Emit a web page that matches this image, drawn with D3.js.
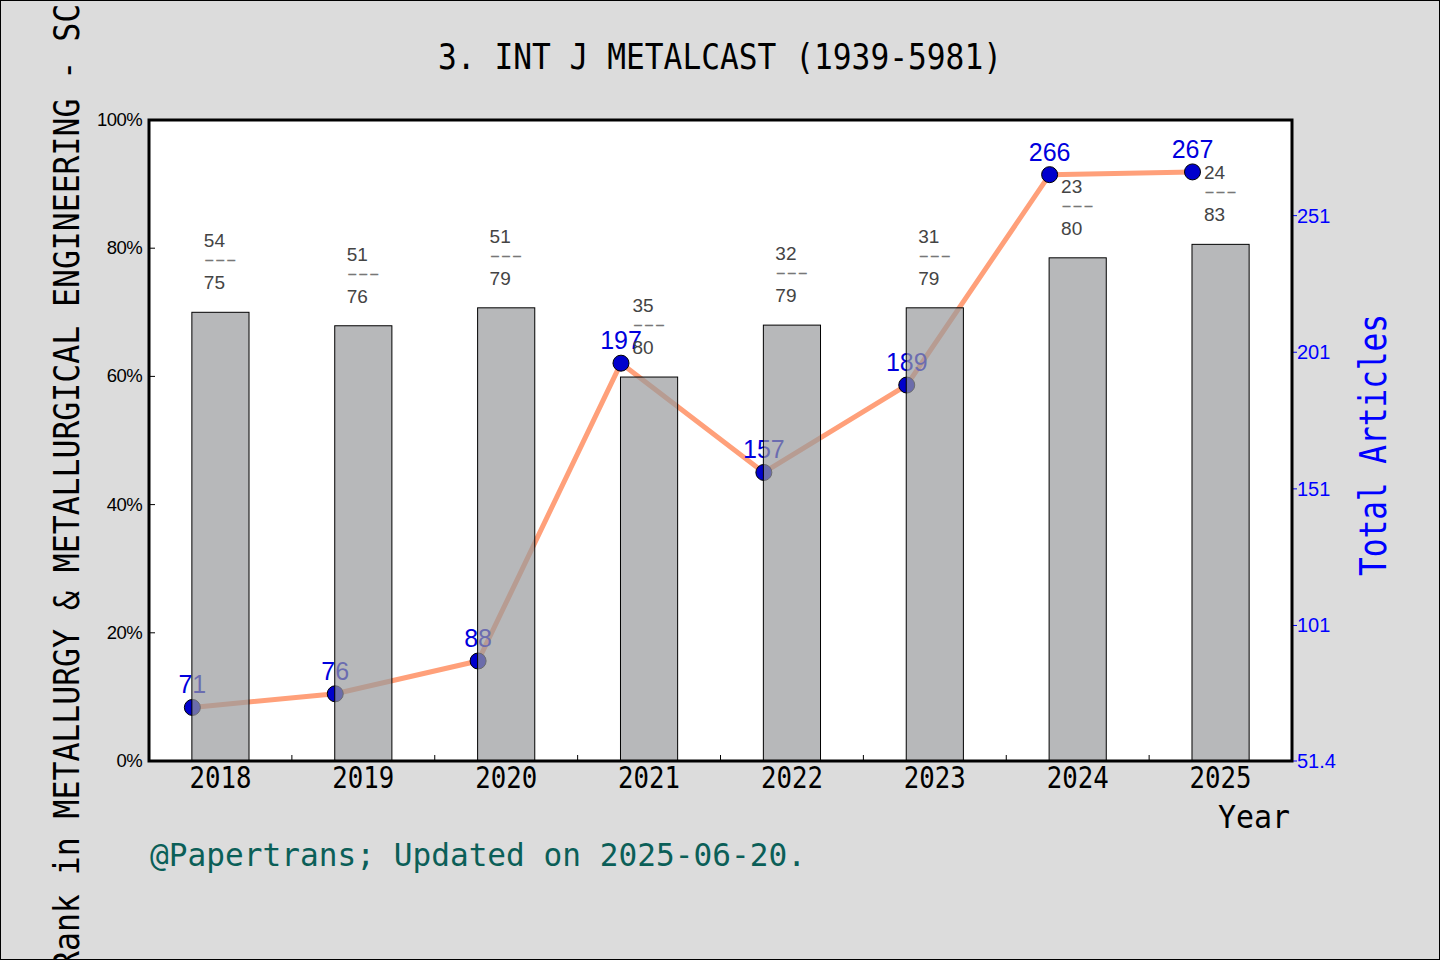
<!DOCTYPE html>
<html>
<head>
<meta charset="utf-8">
<script src="https://cdn.jsdelivr.net/npm/d3@7"></script>
<style>
  body { margin: 0; background: #dcdcdc; }
  svg { display: block; }
</style>
</head>
<body>
<svg id="chart" width="1440" height="960"></svg>
<script>
const years = ["2018", "2019", "2020", "2021", "2022", "2023", "2024", "2025"];
const rankPct = [0.700, 0.679, 0.707, 0.599, 0.680, 0.707, 0.785, 0.806];
const rankNum = [54, 51, 51, 35, 32, 31, 23, 24];
const catTotal = [75, 76, 79, 80, 79, 79, 80, 83];
const articles = [71, 76, 88, 197, 157, 189, 266, 267];
const pctTicks = [0, 0.2, 0.4, 0.6, 0.8, 1.0];
const artTicks = [51.4, 101, 151, 201, 251];

const monoFont = "'DejaVu Sans Mono', 'Liberation Mono', monospace";
const sansFont = "'Liberation Sans', Arial, sans-serif";

const plot = { left: 149, right: 1292, top: 120, bottom: 761 };

const svg = d3.select("#chart");

svg.append("rect")
    .attr("x", 0.5).attr("y", 0.5)
    .attr("width", 1439).attr("height", 959)
    .attr("fill", "#dcdcdc")
    .attr("stroke", "#000")
    .attr("stroke-width", 1);

const x = d3.scaleBand().domain(years).range([plot.left, plot.right]).padding(0);
const barW = x.bandwidth() * 0.4;
const yPct = d3.scaleLinear().domain([0, 1]).range([plot.bottom, plot.top]);
const yArt = d3.scaleLinear().domain([51.4, 286]).range([plot.bottom, plot.top]);

const barLeft = d => x(d) + x.bandwidth() / 2 - barW / 2;

// plot area
svg.append("rect")
    .attr("x", plot.left).attr("y", plot.top)
    .attr("width", plot.right - plot.left).attr("height", plot.bottom - plot.top)
    .attr("fill", "#fff");

// title
svg.append("text")
    .attr("x", 720).attr("y", 69)
    .attr("text-anchor", "middle")
    .attr("font-family", monoFont)
    .attr("font-size", 36)
    .attr("textLength", 564)
    .attr("lengthAdjust", "spacingAndGlyphs")
    .text("3. INT J METALCAST (1939-5981)");

// line series (drawn under the bars)
const pts = years.map((y, i) => [barLeft(y) + 0.5, yArt(articles[i])]);

svg.append("path")
    .attr("d", d3.line()(pts))
    .attr("fill", "none")
    .attr("stroke", "#ffa07a")
    .attr("stroke-width", 5)
    .attr("stroke-linejoin", "round");

svg.append("g").selectAll("circle")
    .data(pts)
    .join("circle")
    .attr("cx", d => d[0])
    .attr("cy", d => d[1])
    .attr("r", 8)
    .attr("fill", "#0000cd")
    .attr("stroke", "#000")
    .attr("stroke-width", 1);

svg.append("g").selectAll("text")
    .data(years)
    .join("text")
    .attr("x", d => barLeft(d) + 0.5)
    .attr("y", (d, i) => yArt(articles[i]) - 14)
    .attr("text-anchor", "middle")
    .attr("font-family", sansFont)
    .attr("font-size", 25)
    .attr("fill", "#0000dd")
    .text((d, i) => articles[i]);

// bars on top, semi transparent
svg.append("g").selectAll("rect")
    .data(years)
    .join("rect")
    .attr("x", d => barLeft(d))
    .attr("y", (d, i) => yPct(rankPct[i]))
    .attr("width", barW)
    .attr("height", (d, i) => plot.bottom - yPct(rankPct[i]))
    .attr("fill", "#999a9c")
    .attr("fill-opacity", 0.7)
    .attr("stroke", "#000")
    .attr("stroke-width", 1);

// rank labels above bars
const lab = svg.append("g")
    .attr("font-family", sansFont)
    .attr("font-size", 19)
    .attr("fill", "#444");

years.forEach((yr, i) => {
    const lx = barLeft(yr) + 12;
    const top = yPct(rankPct[i]);
    lab.append("text").attr("x", lx).attr("y", top - 65).text(rankNum[i]);
    lab.append("text").attr("x", lx).attr("y", top - 46)
        .attr("fill", "#777")
        .attr("textLength", 33)
        .attr("lengthAdjust", "spacingAndGlyphs")
        .text("---");
    lab.append("text").attr("x", lx).attr("y", top - 23).text(catTotal[i]);
});

// left axis
const leftAxis = svg.append("g");
pctTicks.forEach(t => {
    leftAxis.append("line")
        .attr("x1", plot.left).attr("x2", plot.left + 6)
        .attr("y1", yPct(t)).attr("y2", yPct(t))
        .attr("stroke", "#000");
    leftAxis.append("text")
        .attr("x", 142).attr("y", yPct(t) + 6)
        .attr("text-anchor", "end")
        .attr("font-family", sansFont)
        .attr("font-size", 18.5)
        .attr("letter-spacing", -0.6)
        .text(d3.format(".0%")(t));
});

// right axis
const rightAxis = svg.append("g");
artTicks.forEach(t => {
    rightAxis.append("line")
        .attr("x1", plot.right).attr("x2", plot.right + 5)
        .attr("y1", yArt(t)).attr("y2", yArt(t))
        .attr("stroke", "#0000ff");
    rightAxis.append("text")
        .attr("x", 1297).attr("y", yArt(t) + 7)
        .attr("font-family", sansFont)
        .attr("font-size", 20)
        .attr("fill", "#0000ff")
        .text(t);
});

// bottom ticks between categories
years.slice(1).forEach(yr => {
    svg.append("line")
        .attr("x1", x(yr)).attr("x2", x(yr))
        .attr("y1", plot.bottom).attr("y2", plot.bottom - 6)
        .attr("stroke", "#000");
});

svg.append("g").selectAll("text")
    .data(years)
    .join("text")
    .attr("x", d => x(d) + x.bandwidth() / 2)
    .attr("y", 788)
    .attr("text-anchor", "middle")
    .attr("font-family", monoFont)
    .attr("font-size", 31)
    .attr("textLength", 62)
    .attr("lengthAdjust", "spacingAndGlyphs")
    .text(d => d);

// spines
svg.append("rect")
    .attr("x", plot.left).attr("y", plot.top)
    .attr("width", plot.right - plot.left).attr("height", plot.bottom - plot.top)
    .attr("fill", "none")
    .attr("stroke", "#000")
    .attr("stroke-width", 3);

// axis titles
svg.append("text")
    .attr("x", 1290).attr("y", 828)
    .attr("text-anchor", "end")
    .attr("font-family", monoFont)
    .attr("font-size", 32)
    .attr("textLength", 72)
    .attr("lengthAdjust", "spacingAndGlyphs")
    .text("Year");

svg.append("text")
    .attr("transform", "translate(79,468) rotate(-90)")
    .attr("text-anchor", "middle")
    .attr("font-family", monoFont)
    .attr("font-size", 35)
    .attr("textLength", 1004)
    .attr("lengthAdjust", "spacingAndGlyphs")
    .text("Rank in METALLURGY & METALLURGICAL ENGINEERING - SCIE");

svg.append("text")
    .attr("transform", "translate(1386,445) rotate(-90)")
    .attr("text-anchor", "middle")
    .attr("font-family", monoFont)
    .attr("font-size", 37)
    .attr("fill", "#0000ff")
    .attr("textLength", 262)
    .attr("lengthAdjust", "spacingAndGlyphs")
    .text("Total Articles");

// footer
svg.append("text")
    .attr("x", 150).attr("y", 866)
    .attr("font-family", monoFont)
    .attr("font-size", 32)
    .attr("fill", "#0b5f58")
    .attr("textLength", 656)
    .attr("lengthAdjust", "spacingAndGlyphs")
    .text("@Papertrans; Updated on 2025-06-20.");
</script>
</body>
</html>
